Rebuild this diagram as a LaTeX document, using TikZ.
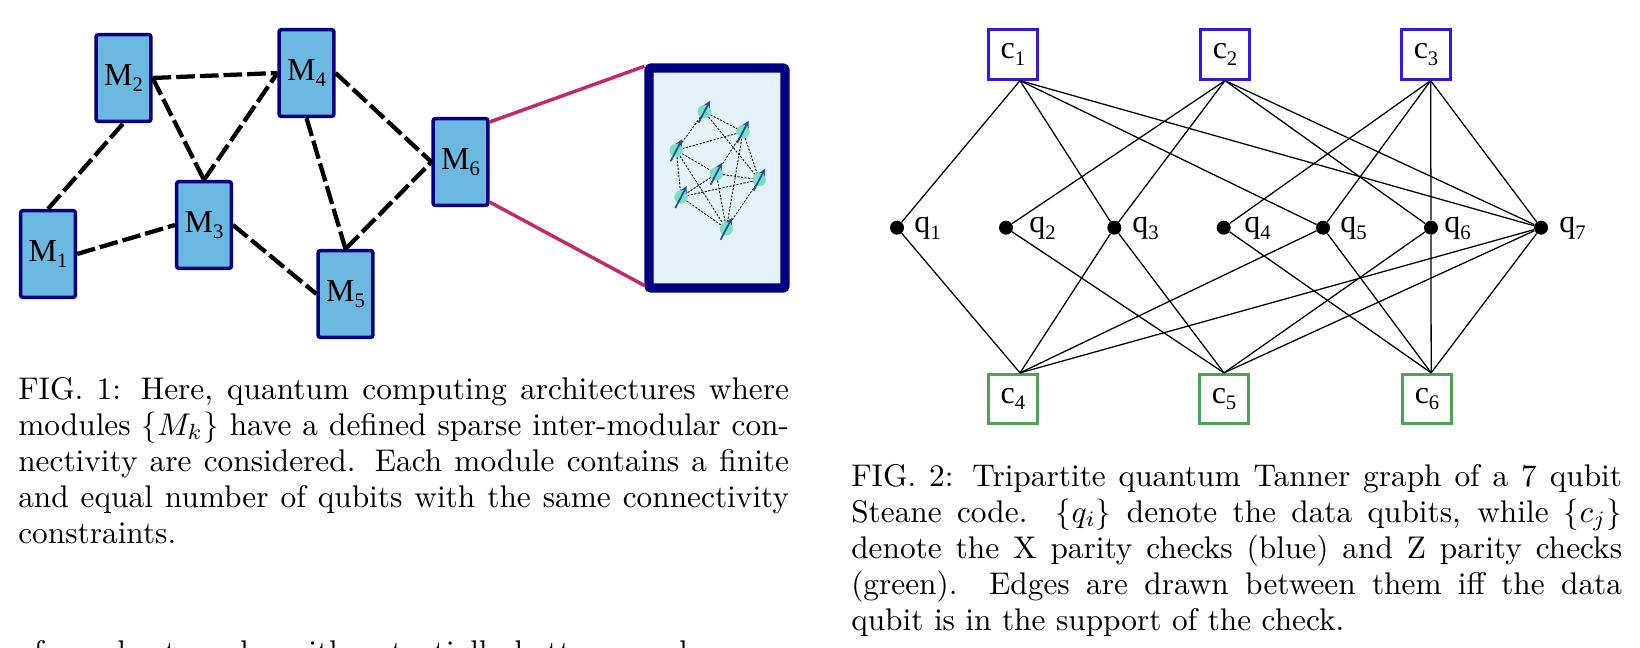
\documentclass[tikz,border=0pt]{standalone}
\usepackage{fontspec}
\usepackage{graphicx}
\newfontfamily\labelfont{Liberation Serif}
\definecolor{modfill}{RGB}{107,184,224}
\definecolor{modline}{RGB}{0,0,128}
\definecolor{zoomfill}{RGB}{228,242,249}
\definecolor{linkline}{RGB}{196,40,110}
\definecolor{spinfill}{RGB}{124,223,191}
\definecolor{spinline}{RGB}{30,78,158}
\definecolor{xcheck}{RGB}{52,20,240}
\definecolor{zcheck}{RGB}{80,160,90}
\newcommand{\lab}[2]{{\labelfont\fontsize{24}{24}\selectfont #1\raisebox{-0.2em}{\fontsize{15.5}{15.5}\selectfont #2}}}
\newcommand{\capbox}[1]{\scalebox{2.35}{\parbox[t]{246pt}{\fontsize{10}{11.5}\selectfont\parindent=0pt #1}}}
\tikzset{
  modbox/.style={draw=modline,fill=modfill,line width=2.6pt,rounded corners=1.5pt,minimum width=41pt,minimum height=65pt,inner sep=0pt},
  bus/.style={line width=3.2pt,dash pattern=on 14pt off 3.75pt},
  zoomlink/.style={draw=linkline,line width=2.6pt},
  zoombox/.style={draw=modline,fill=zoomfill,line width=6.8pt,rounded corners=1.5pt,minimum width=102pt,minimum height=165pt,inner sep=0pt},
  spin/.style={circle,fill=spinfill,minimum size=10pt,inner sep=0pt},
  spinarrow/.style={draw=spinline,line width=1.3pt,-stealth},
  coupling/.style={line width=0.65pt,dash pattern=on 1.6pt off 1.1pt},
  xbox/.style={draw=xcheck,line width=2.2pt,minimum size=37pt,inner sep=0pt},
  zbox/.style={draw=zcheck,line width=2.2pt,minimum size=37pt,inner sep=0pt},
  qdot/.style={circle,fill=black,minimum size=10.5pt,inner sep=0pt},
  qlabel/.style={anchor=base west,inner sep=0pt},
  tanner/.style={line width=0.95pt},
  captext/.style={anchor=base west,inner sep=0pt}
}

\begin{document}
\begin{tikzpicture}[x=0.75pt,y=0.75pt,yscale=-1,xscale=1]
\clip (0,0) rectangle (1640,648);

% Modules
\node [modbox] (M1) at (48,254) {\lab{M}{1}};
\node [modbox] (M2) at (123.5,78) {\lab{M}{2}};
\node [modbox] (M3) at (204,225) {\lab{M}{3}};
\node [modbox] (M4) at (306.5,73) {\lab{M}{4}};
\node [modbox] (M5) at (345.5,294) {\lab{M}{5}};
\node [modbox] (M6) at (460.5,162) {\lab{M}{6}};
% Inter-modular links
\draw [bus] (M1.north) -- (M2.south);
\draw [bus] (M1.east) -- (M3.west);
\draw [bus] (M2.east) -- (M4.west);
\draw [bus] (M2.east) -- (M3.north);
\draw [bus] (M3.north) -- (M4.west);
\draw [bus] (M3.east) -- (M5.west);
\draw [bus] (M4.south) -- (M5.north);
\draw [bus] (M4.east) -- (M6.west);
\draw [bus] (M5.north) -- (M6.west);

% Zoomed module
\node [zoombox] (zoom) at (717,178) {};
\draw [zoomlink] (M6.54) -- (zoom.123.5);
\draw [zoomlink] (M6.-54) -- (zoom.236.5);
% Qubits inside the module
\node [spin] (sA) at (704.3,111.7) {};
\node [spin] (sB) at (743,131.7) {};
\node [spin] (sC) at (676.3,150.3) {};
\node [spin] (sD) at (716.3,173.7) {};
\node [spin] (sE) at (759.3,179.7) {};
\node [spin] (sF) at (681,197) {};
\node [spin] (sG) at (726.3,228.7) {};
% Couplings
\draw [coupling] (sA) -- (sB);
\draw [coupling] (sA) -- (sC);
\draw [coupling] (sA) -- (sE);
\draw [coupling] (sB) -- (sC);
\draw [coupling] (sB) -- (sD);
\draw [coupling] (sB) -- (sE);
\draw [coupling] (sB) -- (sG);
\draw [coupling] (sC) -- (sD);
\draw [coupling] (sC) -- (sF);
\draw [coupling] (sC) -- (sG);
\draw [coupling] (sD) -- (sE);
\draw [coupling] (sD) -- (sF);
\draw [coupling] (sD) -- (sG);
\draw [coupling] (sE) -- (sF);
\draw [coupling] (sE) -- (sG);
\draw [coupling] (sF) -- (sG);
% Spin arrows
\draw [spinarrow] ([shift={(-5.7,11)}]sA.center) -- ([shift={(5.7,-11)}]sA.center);
\draw [spinarrow] ([shift={(-5.7,11)}]sB.center) -- ([shift={(5.7,-11)}]sB.center);
\draw [spinarrow] ([shift={(-5.7,11)}]sC.center) -- ([shift={(5.7,-11)}]sC.center);
\draw [spinarrow] ([shift={(-5.7,11)}]sD.center) -- ([shift={(5.7,-11)}]sD.center);
\draw [spinarrow] ([shift={(-5.7,11)}]sE.center) -- ([shift={(5.7,-11)}]sE.center);
\draw [spinarrow] ([shift={(-5.7,11)}]sF.center) -- ([shift={(5.7,-11)}]sF.center);
\draw [spinarrow] ([shift={(-5.7,11)}]sG.center) -- ([shift={(5.7,-11)}]sG.center);

% Check nodes
\node [xbox] (c1) at (1013,54.5) {\lab{c}{1}};
\node [xbox] (c2) at (1225,54.5) {\lab{c}{2}};
\node [xbox] (c3) at (1426,54.5) {\lab{c}{3}};
\node [zbox] (c4) at (1013,399) {\lab{c}{4}};
\node [zbox] (c5) at (1224,399) {\lab{c}{5}};
\node [zbox] (c6) at (1427,399) {\lab{c}{6}};
% Data qubits
\node [qdot] (q1) at (897,227.7) {};
\node [qdot] (q2) at (1006,227.7) {};
\node [qdot] (q3) at (1114.3,227.7) {};
\node [qdot] (q4) at (1223.7,227.7) {};
\node [qdot] (q5) at (1323,227.7) {};
\node [qdot] (q6) at (1431,227.7) {};
\node [qdot] (q7) at (1541,227.7) {};
% Qubit labels
\node [qlabel] (lq1) at (914,233) {\lab{q}{1}};
\node [qlabel] (lq2) at (1029,233) {\lab{q}{2}};
\node [qlabel] (lq3) at (1132,233) {\lab{q}{3}};
\node [qlabel] (lq4) at (1244,233) {\lab{q}{4}};
\node [qlabel] (lq5) at (1340,233) {\lab{q}{5}};
\node [qlabel] (lq6) at (1444,233) {\lab{q}{6}};
\node [qlabel] (lq7) at (1559,233) {\lab{q}{7}};
% Edges, X checks
\draw [tanner] (c1.-75) -- (q1);
\draw [tanner] (c1.-75) -- (q3);
\draw [tanner] (c1.-75) -- (q5);
\draw [tanner] (c1.-75) -- (q7);
\draw [tanner] (c2.south) -- (q2);
\draw [tanner] (c2.south) -- (q3);
\draw [tanner] (c2.south) -- (q6);
\draw [tanner] (c2.south) -- (q7);
\draw [tanner] (c3.-80) -- (q4);
\draw [tanner] (c3.-80) -- (q5);
\draw [tanner] (c3.-80) -- (q6);
\draw [tanner] (c3.-80) -- (q7);
% Edges, Z checks
\draw [tanner] (c4.75) -- (q1);
\draw [tanner] (c4.75) -- (q3);
\draw [tanner] (c4.75) -- (q5);
\draw [tanner] (c4.75) -- (q7);
\draw [tanner] (c5.north) -- (q2);
\draw [tanner] (c5.north) -- (q3);
\draw [tanner] (c5.north) -- (q6);
\draw [tanner] (c5.north) -- (q7);
\draw [tanner] (c6.81) -- (q4);
\draw [tanner] (c6.81) -- (q5);
\draw [tanner] (c6.81) -- (q6);
\draw [tanner] (c6.81) -- (q7);

% Captions
\node [captext] (cap1) at (18,399) {\capbox{FIG. 1: Here, quantum computing architectures where modules $\{M_k\}$ have a defined sparse inter-modular connectivity are considered. Each module contains a finite and equal number of qubits with the same connectivity constraints.}};
\node [captext] (cap2) at (851,486) {\capbox{FIG. 2: Tripartite quantum Tanner graph of a 7 qubit Steane code. $\{q_i\}$ denote the data qubits, while $\{c_j\}$ denote the X parity checks (blue) and Z parity checks (green). Edges are drawn between them iff the data\linebreak qubit is in the support of the check.}};
\node [captext] (cap3) at (18,662) {\scalebox{2.35}{\fontsize{10}{11.5}\selectfont of equal rate codes with potentially better sound}};

\end{tikzpicture}
\end{document}
